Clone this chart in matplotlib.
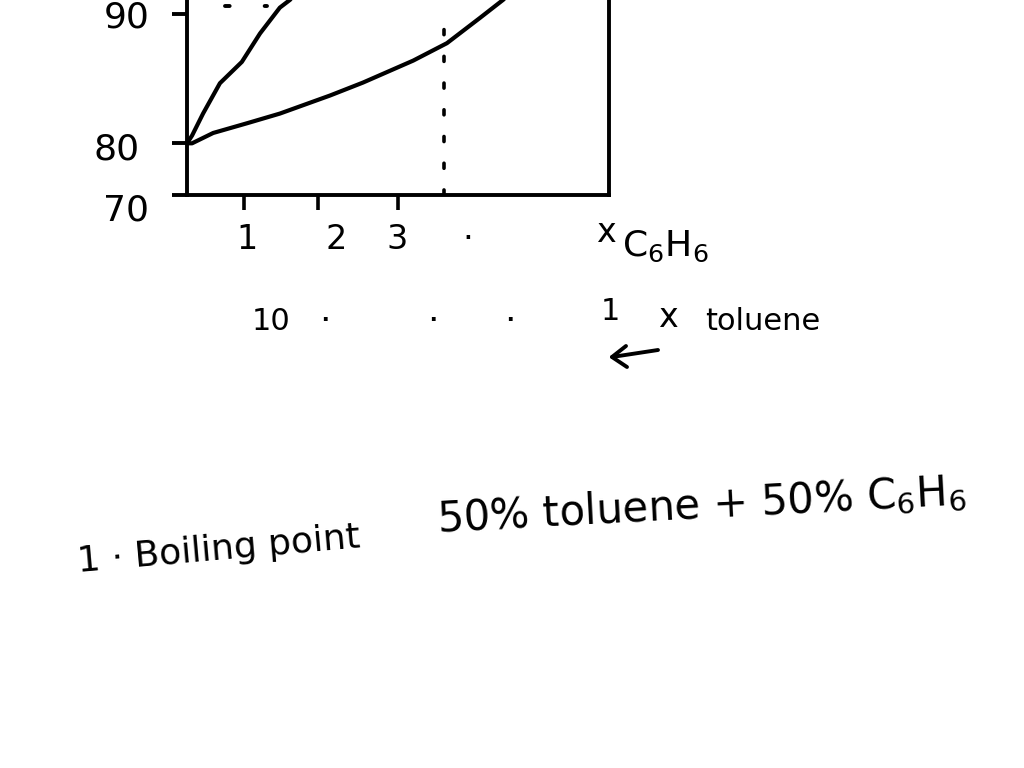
import matplotlib
matplotlib.use("Agg")
import matplotlib.pyplot as plt
from matplotlib.transforms import ScaledTranslation

# ---- data ----
x_liquid = [0.0, 0.012, 0.062, 0.142, 0.220, 0.339, 0.417, 0.536, 0.616, 0.694, 0.749, 0.813]
T_liquid = [80.0, 80.0, 80.8, 81.55, 82.3, 83.7, 84.7, 86.4, 87.75, 89.7, 91.1, 93.0]
x_vapour = [0.0, 0.012, 0.038, 0.078, 0.130, 0.173, 0.220, 0.244, 0.268]
T_vapour = [80.0, 80.6, 82.3, 84.65, 86.3, 88.5, 90.5, 91.1, 92.0]

x_tick_marks = [0.135, 0.31, 0.50]
x_label_pos = [0.142, 0.353, 0.498, 0.666]
x_tick_labels = ["1", "2", "3", "·"]
y_tick_pos = [76, 80, 90]
y_tick_labels = ["70", "80", "90"]

x_dotted = [0.609, 0.609]
T_dotted = [76.0, 90.4]
x_top_dash = [0.09, 0.19]
T_top_dash = [90.6, 90.6]

W, H = 1024, 768
fig = plt.figure(figsize=(W / 100, H / 100), dpi=100)
fig.patch.set_facecolor("white")

def fx(px):
    return px / W

def fy(py):
    return 1 - py / H

# axes box: left 187px, right 609px, bottom 195px, top above the figure
ax = fig.add_axes([fx(187), fy(195), (609 - 187) / W, (195 + 40) / H])
ax.set_xlim(0, 1)
ax.set_ylim(76, 80 + 183 / 12.9)
for s in ax.spines.values():
    s.set_linewidth(2.8)
    s.set_color("black")
ax.set_facecolor("white")

lw = 3.0
ax.plot(x_liquid, T_liquid, color="black", lw=lw, solid_capstyle="round", solid_joinstyle="round")
ax.plot(x_vapour, T_vapour, color="black", lw=lw, solid_capstyle="round", solid_joinstyle="round")
ax.plot(x_dotted, T_dotted, color="black", lw=2.6, linestyle=(0, (1.4, 6)), dash_capstyle="round")
ax.plot(x_top_dash, T_top_dash, color="black", lw=2.8, linestyle=(0, (1.2, 9)), dash_capstyle="round")

# x: short tick marks (minor) and labels (major, no marks)
ax.set_xticks(x_tick_marks, minor=True)
ax.set_xticks(x_label_pos)
ax.set_xticklabels(x_tick_labels, fontsize=24)
ax.tick_params(axis="x", which="minor", direction="out", length=11, width=2.6)
ax.tick_params(axis="x", which="major", length=0, pad=20)

ax.set_yticks(y_tick_pos)
ax.set_yticklabels(y_tick_labels, fontsize=26)
ax.tick_params(axis="y", direction="out", length=11, width=2.8, pad=16)
ylabs = ax.get_yticklabels()
ylabs[0].set_transform(ylabs[0].get_transform() + ScaledTranslation(0, -12 / 100, fig.dpi_scale_trans))
ylabs[1].set_transform(ylabs[1].get_transform() + ScaledTranslation(-10 / 100, -3 / 100, fig.dpi_scale_trans))

# axis label "x C6H6"
fig.text(fx(596), fy(232), "x", fontsize=24, ha="left", va="center")
fig.text(fx(622), fy(246), r"C$_6$H$_6$", fontsize=26, ha="left", va="center")

# toluene row
fig.text(fx(252), fy(321), "10", fontsize=22, ha="left", va="center")
for px in [325, 433, 510]:
    fig.text(fx(px), fy(321), "·", fontsize=26, ha="center", va="center")
fig.text(fx(610), fy(312), "1", fontsize=22, ha="center", va="center")
fig.text(fx(668), fy(317), "x", fontsize=24, ha="center", va="center")
fig.text(fx(705), fy(322), "toluene", fontsize=22, ha="left", va="center")
fig.add_artist(plt.Line2D([fx(612), fx(658)], [fy(357), fy(350)], color="black", lw=2.8,
                          transform=fig.transFigure, solid_capstyle="round"))
fig.add_artist(plt.Line2D([fx(626), fx(612), fx(627)], [fy(346), fy(357), fy(367)], color="black",
                          lw=2.8, transform=fig.transFigure, solid_capstyle="round",
                          solid_joinstyle="round"))

# notes
fig.text(fx(219), fy(550), "1 · Boiling point", fontsize=26, ha="center", va="center", rotation=5)
fig.text(fx(701), fy(506), "50% toluene + 50% C$_6$H$_6$", fontsize=30, ha="center", va="center", rotation=3)

fig.savefig("out.png", dpi=100, facecolor="white")
